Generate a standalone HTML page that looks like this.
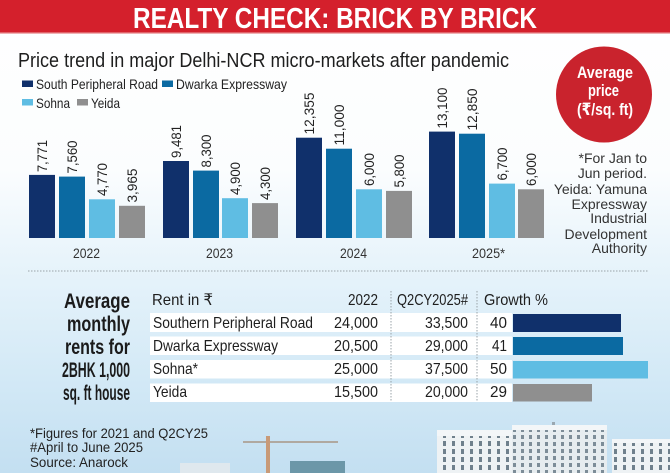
<!DOCTYPE html>
<html><head><meta charset="utf-8"><style>
html,body{margin:0;padding:0;background:#fff;}
svg{display:block;}
text{font-family:"Liberation Sans","DejaVu Sans",sans-serif;}
</style></head><body>
<svg width="670" height="473" viewBox="0 0 670 473" xmlns="http://www.w3.org/2000/svg">
<defs>
<linearGradient id="sky" x1="0" y1="0" x2="0" y2="1">
<stop offset="0" stop-color="#ffffff"/>
<stop offset="0.36" stop-color="#fbfdfe"/>
<stop offset="0.55" stop-color="#e8f4fb"/>
<stop offset="0.8" stop-color="#d3e9f6"/>
<stop offset="1" stop-color="#c3dff1"/>
</linearGradient>
<pattern id="win" width="9" height="8" patternUnits="userSpaceOnUse">
<rect width="9" height="8" fill="#eef2f4"/>
<rect x="2" y="1" width="3" height="5" fill="#6f808c"/>
</pattern>
<pattern id="win2" width="8" height="7" patternUnits="userSpaceOnUse">
<rect width="8" height="7" fill="#e6ecef"/>
<rect x="1" y="1" width="3" height="4" fill="#7d8d98"/>
</pattern>
</defs>
<rect width="670" height="473" fill="url(#sky)"/>

<!-- buildings -->
<rect x="437" y="434" width="75" height="39" fill="url(#win)"/>
<rect x="437" y="430" width="75" height="6" fill="#f3f6f8"/>
<rect x="552" y="422" width="3" height="10" fill="#9aa7b0"/>
<rect x="512" y="428" width="95" height="45" fill="url(#win2)"/>
<rect x="512" y="425" width="95" height="5" fill="#f3f6f8"/>
<rect x="612" y="442" width="58" height="31" fill="url(#win)"/>
<rect x="612" y="439" width="58" height="4" fill="#f3f6f8"/>
<!-- crane -->
<rect x="243" y="441" width="95" height="2" fill="#b0a9a0"/>
<rect x="266" y="436" width="4" height="37" fill="#c89a78"/>
<rect x="290" y="461" width="55" height="12" fill="#6c97a8"/>
<rect x="180" y="463" width="50" height="10" fill="#dfe8ee"/>

<!-- header band -->
<rect x="0" y="0" width="670" height="33" fill="#d4202c"/>
<rect x="0" y="32" width="670" height="1.5" fill="#e0636a"/>
<text x="133" y="28" font-size="29" font-weight="bold" fill="#fff" textLength="404" lengthAdjust="spacingAndGlyphs">REALTY CHECK: BRICK BY BRICK</text>

<!-- subtitle -->
<text x="18" y="67" font-size="20" fill="#1e1e1e" textLength="491" lengthAdjust="spacingAndGlyphs">Price trend in major Delhi-NCR micro-markets after pandemic</text>

<!-- legend -->
<g font-size="14" fill="#222">
<rect x="22" y="80.5" width="11" height="6.5" fill="#10306b"/>
<text x="36" y="89" textLength="122" lengthAdjust="spacingAndGlyphs">South Peripheral Road</text>
<rect x="162" y="80.5" width="11" height="6.5" fill="#0b6aa2"/>
<text x="176" y="89" textLength="111" lengthAdjust="spacingAndGlyphs">Dwarka Expressway</text>
<rect x="22" y="99" width="11" height="6.5" fill="#5fbde3"/>
<text x="36" y="108" textLength="34" lengthAdjust="spacingAndGlyphs">Sohna</text>
<rect x="77" y="99" width="11" height="6.5" fill="#8f8f8f"/>
<text x="91" y="108" textLength="29" lengthAdjust="spacingAndGlyphs">Yeida</text>
</g>

<!-- red circle -->
<circle cx="604" cy="94.5" r="48" fill="#c9232d"/>
<g font-size="17" font-weight="bold" fill="#fff">
<text x="577" y="78" textLength="56" lengthAdjust="spacingAndGlyphs">Average</text>
<text x="588" y="96" textLength="31" lengthAdjust="spacingAndGlyphs">price</text>
<text x="577" y="115" textLength="56" lengthAdjust="spacingAndGlyphs">(₹/sq. ft)</text>
</g>

<!-- bars -->
<g>
<rect x="29" y="174.9" width="26" height="63.1" fill="#10306b"/>
<rect x="59" y="176.6" width="26" height="61.4" fill="#0b6aa2"/>
<rect x="89" y="199.3" width="26" height="38.7" fill="#5fbde3"/>
<rect x="119" y="205.8" width="26" height="32.2" fill="#8f8f8f"/>

<rect x="163" y="161" width="26" height="77" fill="#10306b"/>
<rect x="193" y="170.6" width="26" height="67.4" fill="#0b6aa2"/>
<rect x="222" y="198.2" width="26" height="39.8" fill="#5fbde3"/>
<rect x="252" y="203.1" width="26" height="34.9" fill="#8f8f8f"/>

<rect x="296" y="137.7" width="26" height="100.3" fill="#10306b"/>
<rect x="326" y="148.7" width="26" height="89.3" fill="#0b6aa2"/>
<rect x="356" y="189.3" width="26" height="48.7" fill="#5fbde3"/>
<rect x="386" y="190.9" width="26" height="47.1" fill="#8f8f8f"/>

<rect x="429" y="131.6" width="26" height="106.4" fill="#10306b"/>
<rect x="459" y="133.7" width="26" height="104.3" fill="#0b6aa2"/>
<rect x="489" y="183.6" width="26" height="54.4" fill="#5fbde3"/>
<rect x="518" y="189.3" width="26" height="48.7" fill="#8f8f8f"/>
</g>

<!-- value labels -->
<g font-size="14" fill="#222">
<text transform="translate(47,172) rotate(-90)" textLength="32" lengthAdjust="spacingAndGlyphs">7,771</text>
<text transform="translate(77,173.5) rotate(-90)" textLength="33" lengthAdjust="spacingAndGlyphs">7,560</text>
<text transform="translate(107,196) rotate(-90)" textLength="33" lengthAdjust="spacingAndGlyphs">4,770</text>
<text transform="translate(137,202.5) rotate(-90)" textLength="34" lengthAdjust="spacingAndGlyphs">3,965</text>

<text transform="translate(181,158) rotate(-90)" textLength="33" lengthAdjust="spacingAndGlyphs">9,481</text>
<text transform="translate(211,167.5) rotate(-90)" textLength="33" lengthAdjust="spacingAndGlyphs">8,300</text>
<text transform="translate(240,195) rotate(-90)" textLength="33" lengthAdjust="spacingAndGlyphs">4,900</text>
<text transform="translate(270,200) rotate(-90)" textLength="33" lengthAdjust="spacingAndGlyphs">4,300</text>

<text transform="translate(314,134.5) rotate(-90)" textLength="42" lengthAdjust="spacingAndGlyphs">12,355</text>
<text transform="translate(344,145.5) rotate(-90)" textLength="41" lengthAdjust="spacingAndGlyphs">11,000</text>
<text transform="translate(374,186) rotate(-90)" textLength="33" lengthAdjust="spacingAndGlyphs">6,000</text>
<text transform="translate(404,187.5) rotate(-90)" textLength="33" lengthAdjust="spacingAndGlyphs">5,800</text>

<text transform="translate(447,128.5) rotate(-90)" textLength="41" lengthAdjust="spacingAndGlyphs">13,100</text>
<text transform="translate(477,130.5) rotate(-90)" textLength="42" lengthAdjust="spacingAndGlyphs">12,850</text>
<text transform="translate(507,180.5) rotate(-90)" textLength="33" lengthAdjust="spacingAndGlyphs">6,700</text>
<text transform="translate(536,186) rotate(-90)" textLength="33" lengthAdjust="spacingAndGlyphs">6,000</text>
</g>

<!-- year labels -->
<g font-size="14" fill="#333">
<text x="73" y="258" textLength="27" lengthAdjust="spacingAndGlyphs">2022</text>
<text x="206" y="258" textLength="27" lengthAdjust="spacingAndGlyphs">2023</text>
<text x="340" y="258" textLength="27" lengthAdjust="spacingAndGlyphs">2024</text>
<text x="472" y="258" textLength="33" lengthAdjust="spacingAndGlyphs">2025*</text>
</g>

<!-- side note -->
<g font-size="14" fill="#333" text-anchor="end">
<text x="647" y="163">*For Jan to</text>
<text x="647" y="178">Jun period.</text>
<text x="647" y="194">Yeida: Yamuna</text>
<text x="647" y="209">Expressway</text>
<text x="647" y="223">Industrial</text>
<text x="647" y="239">Development</text>
<text x="647" y="253">Authority</text>
</g>

<!-- dotted line -->
<line x1="28" y1="271" x2="648" y2="271" stroke="#9aa3a8" stroke-width="1" stroke-dasharray="1.5,1.5"/>

<!-- table left title -->
<g font-size="21" font-weight="bold" fill="#1b1b1b" text-anchor="end">
<text x="130" y="308" textLength="66" lengthAdjust="spacingAndGlyphs">Average</text>
<text x="130" y="331" textLength="63" lengthAdjust="spacingAndGlyphs">monthly</text>
<text x="130" y="354" textLength="65" lengthAdjust="spacingAndGlyphs">rents for</text>
<text x="130" y="377" textLength="68" lengthAdjust="spacingAndGlyphs">2BHK 1,000</text>
<text x="130" y="400" textLength="67" lengthAdjust="spacingAndGlyphs">sq. ft house</text>
</g>

<!-- table rows -->
<rect x="150" y="313" width="362" height="19" fill="#ffffff"/>
<rect x="150" y="336.5" width="362" height="18.5" fill="#ffffff"/>
<rect x="150" y="360" width="362" height="18.5" fill="#ffffff"/>
<rect x="150" y="383.5" width="362" height="18.5" fill="#ffffff"/>

<rect x="513" y="314" width="108" height="18" fill="#10306b"/>
<rect x="513" y="337" width="110" height="18" fill="#0b6aa2"/>
<rect x="513" y="361" width="135" height="17.5" fill="#5fbde3"/>
<rect x="513" y="384" width="79" height="17.5" fill="#8f8f8f"/>

<line x1="391" y1="291" x2="391" y2="402" stroke="#9aa3a8" stroke-width="1" stroke-dasharray="1.5,1.5"/>
<line x1="477" y1="291" x2="477" y2="402" stroke="#9aa3a8" stroke-width="1" stroke-dasharray="1.5,1.5"/>

<g font-size="16" fill="#1e1e1e">
<text x="152" y="305" textLength="61" lengthAdjust="spacingAndGlyphs">Rent in ₹</text>
<text x="378" y="305" text-anchor="end" textLength="30" lengthAdjust="spacingAndGlyphs">2022</text>
<text x="468" y="305" text-anchor="end" textLength="71" lengthAdjust="spacingAndGlyphs">Q2CY2025#</text>
<text x="484" y="305" textLength="64" lengthAdjust="spacingAndGlyphs">Growth %</text>

<text x="153" y="328" textLength="160" lengthAdjust="spacingAndGlyphs">Southern Peripheral Road</text>
<text x="153" y="351" textLength="125" lengthAdjust="spacingAndGlyphs">Dwarka Expressway</text>
<text x="153" y="374" textLength="45" lengthAdjust="spacingAndGlyphs">Sohna*</text>
<text x="153" y="397" textLength="34" lengthAdjust="spacingAndGlyphs">Yeida</text>

<text x="378" y="328" text-anchor="end" textLength="44" lengthAdjust="spacingAndGlyphs">24,000</text>
<text x="378" y="351" text-anchor="end" textLength="44" lengthAdjust="spacingAndGlyphs">20,500</text>
<text x="378" y="374" text-anchor="end" textLength="44" lengthAdjust="spacingAndGlyphs">25,000</text>
<text x="378" y="397" text-anchor="end" textLength="44" lengthAdjust="spacingAndGlyphs">15,500</text>

<text x="468" y="328" text-anchor="end" textLength="43" lengthAdjust="spacingAndGlyphs">33,500</text>
<text x="468" y="351" text-anchor="end" textLength="43" lengthAdjust="spacingAndGlyphs">29,000</text>
<text x="468" y="374" text-anchor="end" textLength="43" lengthAdjust="spacingAndGlyphs">37,500</text>
<text x="468" y="397" text-anchor="end" textLength="43" lengthAdjust="spacingAndGlyphs">20,000</text>

<text x="507" y="328" text-anchor="end" textLength="17" lengthAdjust="spacingAndGlyphs">40</text>
<text x="507" y="351" text-anchor="end" textLength="15" lengthAdjust="spacingAndGlyphs">41</text>
<text x="507" y="374" text-anchor="end" textLength="17" lengthAdjust="spacingAndGlyphs">50</text>
<text x="507" y="397" text-anchor="end" textLength="17" lengthAdjust="spacingAndGlyphs">29</text>
</g>

<!-- footer -->
<g font-size="14" fill="#222">
<text x="30" y="438" textLength="178" lengthAdjust="spacingAndGlyphs">*Figures for 2021 and Q2CY25</text>
<text x="30" y="452" textLength="113" lengthAdjust="spacingAndGlyphs">#April to June 2025</text>
<text x="30" y="467" textLength="98" lengthAdjust="spacingAndGlyphs">Source: Anarock</text>
</g>
</svg>
</body></html>
